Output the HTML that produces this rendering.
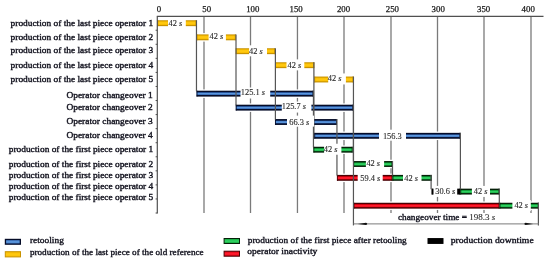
<!DOCTYPE html><html><head><meta charset="utf-8"><style>html,body{margin:0;padding:0;background:#fff;width:550px;height:266px;overflow:hidden}</style></head><body><svg width="550" height="266" viewBox="0 0 550 266" style="position:absolute;left:0;top:0">
<defs>
<linearGradient id="gy" x1="0" y1="0" x2="0" y2="1"><stop offset="0" stop-color="#c89200"/><stop offset="0.1" stop-color="#c89200"/><stop offset="0.25" stop-color="#f8bc00"/><stop offset="0.4" stop-color="#ffc810"/><stop offset="0.62" stop-color="#ffc810"/><stop offset="0.75" stop-color="#f8bc00"/><stop offset="0.88" stop-color="#c89200"/><stop offset="1" stop-color="#c89200"/></linearGradient>
<linearGradient id="sy" x1="0" y1="0" x2="0" y2="1"><stop offset="0" stop-color="#f8bc00"/><stop offset="0.45" stop-color="#ffc810"/><stop offset="0.6" stop-color="#ffc810"/><stop offset="1" stop-color="#f8bc00"/></linearGradient>
<linearGradient id="gb" x1="0" y1="0" x2="0" y2="1"><stop offset="0" stop-color="#050c28"/><stop offset="0.2" stop-color="#050c28"/><stop offset="0.33" stop-color="#2f62b0"/><stop offset="0.45" stop-color="#5a96dc"/><stop offset="0.58" stop-color="#5a96dc"/><stop offset="0.68" stop-color="#2f62b0"/><stop offset="0.8" stop-color="#050c28"/><stop offset="1" stop-color="#050c28"/></linearGradient>
<linearGradient id="sb" x1="0" y1="0" x2="0" y2="1"><stop offset="0" stop-color="#2f62b0"/><stop offset="0.45" stop-color="#5a96dc"/><stop offset="0.6" stop-color="#5a96dc"/><stop offset="1" stop-color="#2f62b0"/></linearGradient>
<linearGradient id="gg" x1="0" y1="0" x2="0" y2="1"><stop offset="0" stop-color="#052008"/><stop offset="0.17" stop-color="#052008"/><stop offset="0.3" stop-color="#0e9a34"/><stop offset="0.45" stop-color="#2ed060"/><stop offset="0.6" stop-color="#2ed060"/><stop offset="0.72" stop-color="#0e9a34"/><stop offset="0.83" stop-color="#052008"/><stop offset="1" stop-color="#052008"/></linearGradient>
<linearGradient id="sg" x1="0" y1="0" x2="0" y2="1"><stop offset="0" stop-color="#0e9a34"/><stop offset="0.45" stop-color="#2ed060"/><stop offset="0.6" stop-color="#2ed060"/><stop offset="1" stop-color="#0e9a34"/></linearGradient>
<linearGradient id="gr" x1="0" y1="0" x2="0" y2="1"><stop offset="0" stop-color="#4a0004"/><stop offset="0.17" stop-color="#4a0004"/><stop offset="0.3" stop-color="#d8000e"/><stop offset="0.45" stop-color="#ff1a2c"/><stop offset="0.6" stop-color="#ff1a2c"/><stop offset="0.72" stop-color="#d8000e"/><stop offset="0.83" stop-color="#4a0004"/><stop offset="1" stop-color="#4a0004"/></linearGradient>
<linearGradient id="sr" x1="0" y1="0" x2="0" y2="1"><stop offset="0" stop-color="#d8000e"/><stop offset="0.45" stop-color="#ff1a2c"/><stop offset="0.6" stop-color="#ff1a2c"/><stop offset="1" stop-color="#d8000e"/></linearGradient>
<linearGradient id="gk" x1="0" y1="0" x2="0" y2="1"><stop offset="0" stop-color="#000000"/><stop offset="0.17" stop-color="#000000"/><stop offset="0.3" stop-color="#000000"/><stop offset="0.45" stop-color="#000000"/><stop offset="0.6" stop-color="#000000"/><stop offset="0.72" stop-color="#000000"/><stop offset="0.83" stop-color="#000000"/><stop offset="1" stop-color="#000000"/></linearGradient>
<linearGradient id="sk" x1="0" y1="0" x2="0" y2="1"><stop offset="0" stop-color="#000000"/><stop offset="0.45" stop-color="#000000"/><stop offset="0.6" stop-color="#000000"/><stop offset="1" stop-color="#000000"/></linearGradient>
</defs>
<rect width="550" height="266" fill="#fff"/>
<line x1="204.00" y1="16.4" x2="204.00" y2="213.01" stroke="#7a7a7a" stroke-width="1.3"/>
<line x1="250.50" y1="16.4" x2="250.50" y2="213.01" stroke="#7a7a7a" stroke-width="1.3"/>
<line x1="297.45" y1="16.4" x2="297.45" y2="213.01" stroke="#7a7a7a" stroke-width="1.3"/>
<line x1="344.00" y1="16.4" x2="344.00" y2="213.01" stroke="#7a7a7a" stroke-width="1.3"/>
<line x1="391.00" y1="16.4" x2="391.00" y2="213.01" stroke="#7a7a7a" stroke-width="1.3"/>
<line x1="437.50" y1="16.4" x2="437.50" y2="213.01" stroke="#7a7a7a" stroke-width="1.3"/>
<line x1="484.00" y1="16.4" x2="484.00" y2="213.01" stroke="#7a7a7a" stroke-width="1.3"/>
<line x1="531.00" y1="16.4" x2="531.00" y2="213.01" stroke="#7a7a7a" stroke-width="1.3"/>
<rect x="157.30" y="18.95" width="39.24" height="8.50" fill="#fff"/>
<rect x="196.54" y="33.10" width="39.24" height="8.50" fill="#fff"/>
<rect x="235.78" y="46.95" width="39.24" height="8.50" fill="#fff"/>
<rect x="275.02" y="60.95" width="39.24" height="8.50" fill="#fff"/>
<rect x="314.25" y="75.25" width="39.24" height="8.50" fill="#fff"/>
<rect x="196.54" y="89.40" width="116.87" height="8.50" fill="#fff"/>
<rect x="235.78" y="103.40" width="117.44" height="8.50" fill="#fff"/>
<rect x="275.02" y="117.75" width="61.94" height="8.50" fill="#fff"/>
<rect x="314.25" y="131.55" width="146.02" height="8.50" fill="#fff"/>
<rect x="313.41" y="145.45" width="39.24" height="8.50" fill="#fff"/>
<rect x="353.21" y="159.75" width="39.24" height="8.50" fill="#fff"/>
<rect x="336.96" y="173.60" width="55.49" height="8.50" fill="#fff"/>
<rect x="392.45" y="173.60" width="39.24" height="8.50" fill="#fff"/>
<rect x="431.69" y="187.35" width="28.59" height="8.50" fill="#fff"/>
<rect x="460.28" y="187.35" width="39.24" height="8.50" fill="#fff"/>
<rect x="353.49" y="201.45" width="146.02" height="8.50" fill="#fff"/>
<rect x="499.52" y="201.45" width="39.24" height="8.50" fill="#fff"/>
<rect x="157.30" y="20.25" width="39.24" height="5.90" fill="url(#gy)"/>
<line x1="157.75" y1="20.25" x2="157.75" y2="26.15" stroke="#c89200" stroke-width="0.9"/>
<line x1="196.09" y1="20.25" x2="196.09" y2="26.15" stroke="#c89200" stroke-width="0.9"/>
<rect x="196.54" y="34.40" width="39.24" height="5.90" fill="url(#gy)"/>
<line x1="196.99" y1="34.40" x2="196.99" y2="40.30" stroke="#c89200" stroke-width="0.9"/>
<line x1="235.33" y1="34.40" x2="235.33" y2="40.30" stroke="#c89200" stroke-width="0.9"/>
<rect x="235.78" y="48.25" width="39.24" height="5.90" fill="url(#gy)"/>
<line x1="236.23" y1="48.25" x2="236.23" y2="54.15" stroke="#c89200" stroke-width="0.9"/>
<line x1="274.57" y1="48.25" x2="274.57" y2="54.15" stroke="#c89200" stroke-width="0.9"/>
<rect x="275.02" y="62.25" width="39.24" height="5.90" fill="url(#gy)"/>
<line x1="275.47" y1="62.25" x2="275.47" y2="68.15" stroke="#c89200" stroke-width="0.9"/>
<line x1="313.80" y1="62.25" x2="313.80" y2="68.15" stroke="#c89200" stroke-width="0.9"/>
<rect x="314.25" y="76.55" width="39.24" height="5.90" fill="url(#gy)"/>
<line x1="314.70" y1="76.55" x2="314.70" y2="82.45" stroke="#c89200" stroke-width="0.9"/>
<line x1="353.04" y1="76.55" x2="353.04" y2="82.45" stroke="#c89200" stroke-width="0.9"/>
<rect x="196.54" y="90.70" width="116.87" height="5.90" fill="url(#gb)"/>
<line x1="196.99" y1="90.70" x2="196.99" y2="96.60" stroke="#050c28" stroke-width="0.9"/>
<line x1="312.96" y1="90.70" x2="312.96" y2="96.60" stroke="#050c28" stroke-width="0.9"/>
<rect x="235.78" y="104.70" width="117.44" height="5.90" fill="url(#gb)"/>
<line x1="236.23" y1="104.70" x2="236.23" y2="110.60" stroke="#050c28" stroke-width="0.9"/>
<line x1="352.76" y1="104.70" x2="352.76" y2="110.60" stroke="#050c28" stroke-width="0.9"/>
<rect x="275.02" y="119.05" width="61.94" height="5.90" fill="url(#gb)"/>
<line x1="275.47" y1="119.05" x2="275.47" y2="124.95" stroke="#050c28" stroke-width="0.9"/>
<line x1="336.51" y1="119.05" x2="336.51" y2="124.95" stroke="#050c28" stroke-width="0.9"/>
<rect x="314.25" y="132.85" width="146.02" height="5.90" fill="url(#gb)"/>
<line x1="314.70" y1="132.85" x2="314.70" y2="138.75" stroke="#050c28" stroke-width="0.9"/>
<line x1="459.83" y1="132.85" x2="459.83" y2="138.75" stroke="#050c28" stroke-width="0.9"/>
<rect x="313.41" y="146.75" width="39.24" height="5.90" fill="url(#gg)"/>
<line x1="313.86" y1="146.75" x2="313.86" y2="152.65" stroke="#052008" stroke-width="0.9"/>
<line x1="352.20" y1="146.75" x2="352.20" y2="152.65" stroke="#052008" stroke-width="0.9"/>
<rect x="353.21" y="161.05" width="39.24" height="5.90" fill="url(#gg)"/>
<line x1="353.66" y1="161.05" x2="353.66" y2="166.95" stroke="#052008" stroke-width="0.9"/>
<line x1="392.00" y1="161.05" x2="392.00" y2="166.95" stroke="#052008" stroke-width="0.9"/>
<rect x="336.96" y="174.90" width="55.49" height="5.90" fill="url(#gr)"/>
<line x1="337.41" y1="174.90" x2="337.41" y2="180.80" stroke="#4a0004" stroke-width="0.9"/>
<line x1="392.00" y1="174.90" x2="392.00" y2="180.80" stroke="#4a0004" stroke-width="0.9"/>
<rect x="392.45" y="174.90" width="39.24" height="5.90" fill="url(#gg)"/>
<line x1="392.90" y1="174.90" x2="392.90" y2="180.80" stroke="#052008" stroke-width="0.9"/>
<line x1="431.24" y1="174.90" x2="431.24" y2="180.80" stroke="#052008" stroke-width="0.9"/>
<rect x="431.69" y="188.65" width="28.59" height="5.90" fill="url(#gk)"/>
<line x1="432.14" y1="188.65" x2="432.14" y2="194.55" stroke="#000000" stroke-width="0.9"/>
<line x1="459.83" y1="188.65" x2="459.83" y2="194.55" stroke="#000000" stroke-width="0.9"/>
<rect x="460.28" y="188.65" width="39.24" height="5.90" fill="url(#gg)"/>
<line x1="460.73" y1="188.65" x2="460.73" y2="194.55" stroke="#052008" stroke-width="0.9"/>
<line x1="499.07" y1="188.65" x2="499.07" y2="194.55" stroke="#052008" stroke-width="0.9"/>
<rect x="353.49" y="202.75" width="146.02" height="5.90" fill="url(#gr)"/>
<line x1="353.94" y1="202.75" x2="353.94" y2="208.65" stroke="#4a0004" stroke-width="0.9"/>
<line x1="499.07" y1="202.75" x2="499.07" y2="208.65" stroke="#4a0004" stroke-width="0.9"/>
<rect x="499.52" y="202.75" width="39.24" height="5.90" fill="url(#gg)"/>
<line x1="499.97" y1="202.75" x2="499.97" y2="208.65" stroke="#052008" stroke-width="0.9"/>
<line x1="538.30" y1="202.75" x2="538.30" y2="208.65" stroke="#052008" stroke-width="0.9"/>
<line x1="196.47" y1="20.25" x2="196.47" y2="91.20" stroke="#555555" stroke-width="1.2"/>
<line x1="236.00" y1="34.40" x2="236.00" y2="105.20" stroke="#555555" stroke-width="1.2"/>
<line x1="275.40" y1="48.25" x2="275.40" y2="119.55" stroke="#555555" stroke-width="1.2"/>
<line x1="313.90" y1="62.25" x2="313.90" y2="133.35" stroke="#555555" stroke-width="1.2"/>
<line x1="313.45" y1="90.70" x2="313.45" y2="147.25" stroke="#555555" stroke-width="1.2"/>
<line x1="353.45" y1="104.70" x2="353.45" y2="161.55" stroke="#555555" stroke-width="1.2"/>
<line x1="336.95" y1="119.05" x2="336.95" y2="175.40" stroke="#555555" stroke-width="1.2"/>
<line x1="460.40" y1="132.85" x2="460.40" y2="189.15" stroke="#555555" stroke-width="1.2"/>
<line x1="392.50" y1="161.05" x2="392.50" y2="175.40" stroke="#555555" stroke-width="1.2"/>
<line x1="431.10" y1="174.90" x2="431.10" y2="189.15" stroke="#555555" stroke-width="1.2"/>
<line x1="499.30" y1="188.65" x2="499.30" y2="203.25" stroke="#555555" stroke-width="1.2"/>
<line x1="353.45" y1="76.55" x2="353.45" y2="225.4" stroke="#555555" stroke-width="1.2"/>
<line x1="538.40" y1="202.75" x2="538.40" y2="225.4" stroke="#555555" stroke-width="1.2"/>
<rect x="168.00" y="17.20" width="17.80" height="11.0" fill="#fff"/>
<text x="168.60" y="25.95" font-family="'Liberation Serif', serif" font-size="8.4" fill="#2c2c2c" stroke="#2c2c2c" stroke-width="0.12">42 <tspan font-style="italic">s</tspan></text>
<rect x="208.60" y="31.26" width="17.30" height="11.0" fill="#fff"/>
<text x="209.60" y="38.70" font-family="'Liberation Serif', serif" font-size="8.4" fill="#2c2c2c" stroke="#2c2c2c" stroke-width="0.12">42 <tspan font-style="italic">s</tspan></text>
<rect x="249.10" y="45.32" width="17.90" height="11.0" fill="#fff"/>
<text x="249.00" y="53.80" font-family="'Liberation Serif', serif" font-size="8.4" fill="#2c2c2c" stroke="#2c2c2c" stroke-width="0.12">42 <tspan font-style="italic">s</tspan></text>
<rect x="286.50" y="59.38" width="17.80" height="11.0" fill="#fff"/>
<text x="287.60" y="67.95" font-family="'Liberation Serif', serif" font-size="8.4" fill="#2c2c2c" stroke="#2c2c2c" stroke-width="0.12">42 <tspan font-style="italic">s</tspan></text>
<rect x="328.20" y="73.44" width="17.70" height="11.0" fill="#fff"/>
<text x="327.80" y="80.70" font-family="'Liberation Serif', serif" font-size="8.4" fill="#2c2c2c" stroke="#2c2c2c" stroke-width="0.12">42 <tspan font-style="italic">s</tspan></text>
<rect x="240.50" y="87.50" width="29.70" height="11.0" fill="#fff"/>
<text x="240.80" y="94.70" font-family="'Liberation Serif', serif" font-size="8.4" fill="#2c2c2c" stroke="#2c2c2c" stroke-width="0.12">125.1 <tspan font-style="italic">s</tspan></text>
<rect x="281.80" y="101.56" width="29.60" height="11.0" fill="#fff"/>
<text x="281.80" y="108.80" font-family="'Liberation Serif', serif" font-size="8.4" fill="#2c2c2c" stroke="#2c2c2c" stroke-width="0.12">125.7 <tspan font-style="italic">s</tspan></text>
<rect x="287.00" y="115.62" width="27.00" height="11.0" fill="#fff"/>
<text x="289.20" y="124.70" font-family="'Liberation Serif', serif" font-size="8.4" fill="#2c2c2c" stroke="#2c2c2c" stroke-width="0.12">66.3 <tspan font-style="italic">s</tspan></text>
<rect x="379.00" y="129.68" width="27.00" height="11.0" fill="#fff"/>
<text x="382.90" y="138.70" font-family="'Liberation Serif', serif" font-size="8.4" fill="#2c2c2c" stroke="#2c2c2c" stroke-width="0.12">156.3</text>
<rect x="324.10" y="143.74" width="17.30" height="11.0" fill="#fff"/>
<text x="323.80" y="152.40" font-family="'Liberation Serif', serif" font-size="8.4" fill="#2c2c2c" stroke="#2c2c2c" stroke-width="0.12">42 <tspan font-style="italic">s</tspan></text>
<rect x="365.90" y="157.80" width="18.20" height="11.0" fill="#fff"/>
<text x="366.40" y="165.70" font-family="'Liberation Serif', serif" font-size="8.4" fill="#2c2c2c" stroke="#2c2c2c" stroke-width="0.12">42 <tspan font-style="italic">s</tspan></text>
<rect x="357.70" y="171.86" width="25.00" height="11.0" fill="#fff"/>
<text x="360.30" y="180.70" font-family="'Liberation Serif', serif" font-size="8.4" fill="#2c2c2c" stroke="#2c2c2c" stroke-width="0.12">59.4 <tspan font-style="italic">s</tspan></text>
<rect x="403.00" y="171.86" width="18.50" height="11.0" fill="#fff"/>
<text x="404.20" y="181.20" font-family="'Liberation Serif', serif" font-size="8.4" fill="#2c2c2c" stroke="#2c2c2c" stroke-width="0.12">42 <tspan font-style="italic">s</tspan></text>
<rect x="433.50" y="185.92" width="23.70" height="11.0" fill="#fff"/>
<text x="435.20" y="194.40" font-family="'Liberation Serif', serif" font-size="8.4" fill="#2c2c2c" stroke="#2c2c2c" stroke-width="0.12">30.6 <tspan font-style="italic">s</tspan></text>
<rect x="471.90" y="185.92" width="18.10" height="11.0" fill="#fff"/>
<text x="473.80" y="194.40" font-family="'Liberation Serif', serif" font-size="8.4" fill="#2c2c2c" stroke="#2c2c2c" stroke-width="0.12">42 <tspan font-style="italic">s</tspan></text>
<rect x="512.40" y="199.98" width="18.40" height="11.0" fill="#fff"/>
<text x="514.40" y="208.40" font-family="'Liberation Serif', serif" font-size="8.4" fill="#2c2c2c" stroke="#2c2c2c" stroke-width="0.12">42 <tspan font-style="italic">s</tspan></text>
<line x1="156.8" y1="16.4" x2="543.5" y2="16.4" stroke="#505050" stroke-width="1.2"/>
<line x1="157.3" y1="16.4" x2="157.3" y2="213.51" stroke="#505050" stroke-width="1.2"/>
<line x1="155.6" y1="30.23" x2="157.3" y2="30.23" stroke="#505050" stroke-width="1"/>
<line x1="155.6" y1="44.29" x2="157.3" y2="44.29" stroke="#505050" stroke-width="1"/>
<line x1="155.6" y1="58.35" x2="157.3" y2="58.35" stroke="#505050" stroke-width="1"/>
<line x1="155.6" y1="72.41" x2="157.3" y2="72.41" stroke="#505050" stroke-width="1"/>
<line x1="155.6" y1="86.47" x2="157.3" y2="86.47" stroke="#505050" stroke-width="1"/>
<line x1="155.6" y1="100.53" x2="157.3" y2="100.53" stroke="#505050" stroke-width="1"/>
<line x1="155.6" y1="114.59" x2="157.3" y2="114.59" stroke="#505050" stroke-width="1"/>
<line x1="155.6" y1="128.65" x2="157.3" y2="128.65" stroke="#505050" stroke-width="1"/>
<line x1="155.6" y1="142.71" x2="157.3" y2="142.71" stroke="#505050" stroke-width="1"/>
<line x1="155.6" y1="156.77" x2="157.3" y2="156.77" stroke="#505050" stroke-width="1"/>
<line x1="155.6" y1="170.83" x2="157.3" y2="170.83" stroke="#505050" stroke-width="1"/>
<line x1="155.6" y1="184.89" x2="157.3" y2="184.89" stroke="#505050" stroke-width="1"/>
<line x1="155.6" y1="198.95" x2="157.3" y2="198.95" stroke="#505050" stroke-width="1"/>
<line x1="155.6" y1="213.01" x2="157.3" y2="213.01" stroke="#505050" stroke-width="1"/>
<text x="159.00" y="11.95" text-anchor="middle" font-family="'Liberation Serif', serif" font-size="8.8" fill="#1a1a1a" stroke="#1a1a1a" stroke-width="0.25">0</text>
<text x="206.70" y="11.95" text-anchor="middle" font-family="'Liberation Serif', serif" font-size="8.8" fill="#1a1a1a" stroke="#1a1a1a" stroke-width="0.25">50</text>
<text x="252.75" y="11.95" text-anchor="middle" font-family="'Liberation Serif', serif" font-size="8.8" fill="#1a1a1a" stroke="#1a1a1a" stroke-width="0.25">100</text>
<text x="296.10" y="11.95" text-anchor="middle" font-family="'Liberation Serif', serif" font-size="8.8" fill="#1a1a1a" stroke="#1a1a1a" stroke-width="0.25">150</text>
<text x="343.55" y="11.95" text-anchor="middle" font-family="'Liberation Serif', serif" font-size="8.8" fill="#1a1a1a" stroke="#1a1a1a" stroke-width="0.25">200</text>
<text x="392.35" y="11.95" text-anchor="middle" font-family="'Liberation Serif', serif" font-size="8.8" fill="#1a1a1a" stroke="#1a1a1a" stroke-width="0.25">250</text>
<text x="438.20" y="11.95" text-anchor="middle" font-family="'Liberation Serif', serif" font-size="8.8" fill="#1a1a1a" stroke="#1a1a1a" stroke-width="0.25">300</text>
<text x="483.60" y="11.95" text-anchor="middle" font-family="'Liberation Serif', serif" font-size="8.8" fill="#1a1a1a" stroke="#1a1a1a" stroke-width="0.25">350</text>
<text x="528.20" y="11.95" text-anchor="middle" font-family="'Liberation Serif', serif" font-size="8.8" fill="#1a1a1a" stroke="#1a1a1a" stroke-width="0.25">400</text>
<text x="153.2" y="26.10" text-anchor="end" textLength="142.6" lengthAdjust="spacingAndGlyphs" font-family="'Liberation Serif', serif" font-size="9.2" fill="#12121e" stroke="#12121e" stroke-width="0.38">production of the last piece operator 1</text>
<text x="153.2" y="39.70" text-anchor="end" textLength="142.6" lengthAdjust="spacingAndGlyphs" font-family="'Liberation Serif', serif" font-size="9.2" fill="#12121e" stroke="#12121e" stroke-width="0.38">production of the last piece operator 2</text>
<text x="153.2" y="53.40" text-anchor="end" textLength="142.6" lengthAdjust="spacingAndGlyphs" font-family="'Liberation Serif', serif" font-size="9.2" fill="#12121e" stroke="#12121e" stroke-width="0.38">production of the last piece operator 3</text>
<text x="153.2" y="67.90" text-anchor="end" textLength="142.6" lengthAdjust="spacingAndGlyphs" font-family="'Liberation Serif', serif" font-size="9.2" fill="#12121e" stroke="#12121e" stroke-width="0.38">production of the last piece operator 4</text>
<text x="153.2" y="81.60" text-anchor="end" textLength="142.6" lengthAdjust="spacingAndGlyphs" font-family="'Liberation Serif', serif" font-size="9.2" fill="#12121e" stroke="#12121e" stroke-width="0.38">production of the last piece operator 5</text>
<text x="152.8" y="97.60" text-anchor="end" textLength="86.4" lengthAdjust="spacingAndGlyphs" font-family="'Liberation Serif', serif" font-size="9.2" fill="#12121e" stroke="#12121e" stroke-width="0.38">Operator changeover 1</text>
<text x="152.8" y="110.20" text-anchor="end" textLength="86.4" lengthAdjust="spacingAndGlyphs" font-family="'Liberation Serif', serif" font-size="9.2" fill="#12121e" stroke="#12121e" stroke-width="0.38">Operator changeover 2</text>
<text x="152.8" y="124.30" text-anchor="end" textLength="86.4" lengthAdjust="spacingAndGlyphs" font-family="'Liberation Serif', serif" font-size="9.2" fill="#12121e" stroke="#12121e" stroke-width="0.38">Operator changeover 3</text>
<text x="152.8" y="137.50" text-anchor="end" textLength="86.4" lengthAdjust="spacingAndGlyphs" font-family="'Liberation Serif', serif" font-size="9.2" fill="#12121e" stroke="#12121e" stroke-width="0.38">Operator changeover 4</text>
<text x="153.2" y="151.80" text-anchor="end" textLength="144.4" lengthAdjust="spacingAndGlyphs" font-family="'Liberation Serif', serif" font-size="9.2" fill="#12121e" stroke="#12121e" stroke-width="0.38">production of the first piece operator 1</text>
<text x="153.2" y="166.50" text-anchor="end" textLength="144.4" lengthAdjust="spacingAndGlyphs" font-family="'Liberation Serif', serif" font-size="9.2" fill="#12121e" stroke="#12121e" stroke-width="0.38">production of the first piece operator 2</text>
<text x="153.2" y="178.00" text-anchor="end" textLength="144.4" lengthAdjust="spacingAndGlyphs" font-family="'Liberation Serif', serif" font-size="9.2" fill="#12121e" stroke="#12121e" stroke-width="0.38">production of the first piece operator 3</text>
<text x="153.2" y="189.00" text-anchor="end" textLength="144.4" lengthAdjust="spacingAndGlyphs" font-family="'Liberation Serif', serif" font-size="9.2" fill="#12121e" stroke="#12121e" stroke-width="0.38">production of the first piece operator 4</text>
<text x="153.2" y="200.10" text-anchor="end" textLength="144.4" lengthAdjust="spacingAndGlyphs" font-family="'Liberation Serif', serif" font-size="9.2" fill="#12121e" stroke="#12121e" stroke-width="0.38">production of the first piece operator 5</text>
<line x1="353.49" y1="223.9" x2="538.75" y2="223.9" stroke="#7a7a7a" stroke-width="1"/>
<path d="M357.8,223.9 L366,222.8 Q368.5,223.9 366,225.1 Z" fill="#111"/>
<path d="M533.2,223.9 L525.5,222.8 Q523.2,223.9 525.5,225.1 Z" fill="#111"/>
<text x="398" y="220.3" font-family="'Liberation Serif', serif" font-size="9" fill="#12121e"><tspan stroke="#12121e" stroke-width="0.36" textLength="69" lengthAdjust="spacingAndGlyphs">changeover time =</tspan><tspan fill="#303030" stroke="#303030" stroke-width="0.12"> 198.3 <tspan font-style="italic">s</tspan></tspan></text>
<rect x="5.45" y="239.45" width="14.90" height="4.70" fill="url(#sb)" stroke="#050c28" stroke-width="1.3"/>
<rect x="5.30" y="251.70" width="15.20" height="5.20" fill="url(#sy)" stroke="#c89200" stroke-width="1.0"/>
<rect x="224.10" y="238.50" width="15.40" height="5.00" fill="url(#sg)" stroke="#052008" stroke-width="1.0"/>
<rect x="224.10" y="251.20" width="15.40" height="5.00" fill="url(#sr)" stroke="#4a0004" stroke-width="1.0"/>
<rect x="428.00" y="238.60" width="15.00" height="4.80" fill="url(#sk)" stroke="#000000" stroke-width="1.0"/>
<text x="29.9" y="242.9" textLength="34" lengthAdjust="spacingAndGlyphs" font-family="'Liberation Serif', serif" font-size="9" fill="#12121e" stroke="#12121e" stroke-width="0.36">retooling</text>
<text x="29.9" y="255" textLength="173.8" lengthAdjust="spacingAndGlyphs" font-family="'Liberation Serif', serif" font-size="9" fill="#12121e" stroke="#12121e" stroke-width="0.36">production of the last piece of the old reference</text>
<text x="247.8" y="243" textLength="159" lengthAdjust="spacingAndGlyphs" font-family="'Liberation Serif', serif" font-size="9" fill="#12121e" stroke="#12121e" stroke-width="0.36">production of the first piece after retooling</text>
<text x="247.3" y="254.4" textLength="70" lengthAdjust="spacingAndGlyphs" font-family="'Liberation Serif', serif" font-size="9" fill="#12121e" stroke="#12121e" stroke-width="0.36">operator inactivity</text>
<text x="450.7" y="243" textLength="83" lengthAdjust="spacingAndGlyphs" font-family="'Liberation Serif', serif" font-size="9" fill="#12121e" stroke="#12121e" stroke-width="0.36">production downtime</text>
</svg></body></html>
